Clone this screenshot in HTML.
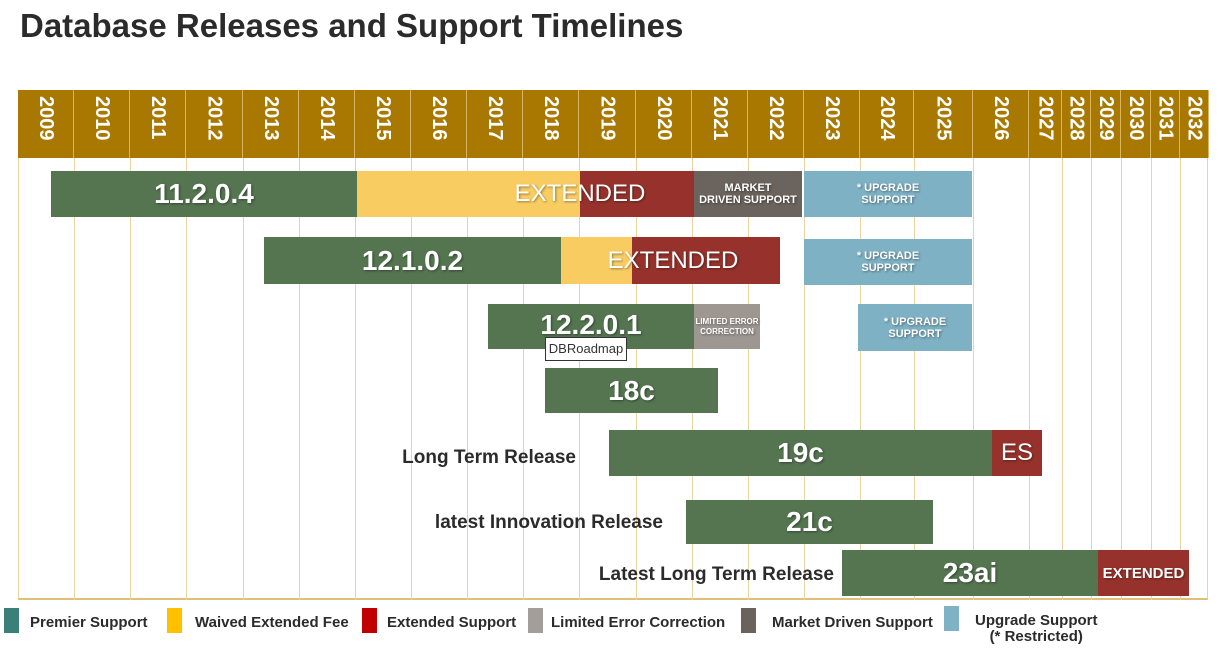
<!DOCTYPE html>
<html><head><meta charset="utf-8"><style>
body{margin:0;width:1219px;height:650px;background:#fff;position:relative;overflow:hidden;font-family:"Liberation Sans",sans-serif}
.a{position:absolute}
.t{position:absolute;left:20px;top:7px;font-size:33px;font-weight:bold;color:#2b2b2b}
.hd{position:absolute;top:90px;height:68px;background:#a97800;border-right:1px solid #d9b560;color:#fff;font-weight:bold;font-size:20px;writing-mode:vertical-rl;display:flex;align-items:center;justify-content:flex-start;padding-top:6px;box-sizing:border-box}
.gl{position:absolute;top:158px;height:442px;width:1px;background:#ead3a0}
.b{position:absolute;display:flex;align-items:center;justify-content:center;color:#fff;font-weight:bold;text-shadow:1px 1px 2px rgba(0,0,0,.4)}
.g{background:#547550;font-size:28px}
.y{background:#f9cc62}
.r{background:#96322b}
.m{background:#6b635d;font-size:11px;text-align:center;line-height:12px}
.u{background:#7eb1c4;font-size:11px;text-align:center;line-height:12px}
.l{background:#9e9690;font-size:8px;text-align:center;line-height:10px}
.lab{position:absolute;font-weight:bold;font-size:19px;color:#2b2b2b;text-align:right}
.sw{position:absolute;top:608px;width:15px;height:25px}
.lt{position:absolute;top:614px;font-weight:bold;font-size:15px;color:#2b2b2b}
.ext{font-weight:normal;font-size:24px;color:#fff}
</style></head><body>
<div class="t">Database Releases and Support Timelines</div>
<div class="a" style="left:18px;top:158px;width:1190px;height:442px;border-left:1px solid #ead3a0;border-right:1px solid #ead3a0;border-bottom:2px solid #e0c078;box-sizing:border-box"></div>
<div id="hdr"></div>
<script>
var b=[18,74,130,186,243,299,355,411,467,523,579,636,692,748,804,860,914,973,1029,1062,1091,1121,1151,1180,1209];
var h='';
for(var i=0;i<b.length-1;i++){h+='<div class="hd" style="left:'+b[i]+'px;width:'+(b[i+1]-b[i])+'px">'+(2009+i)+'</div>';
if(i>0)h+='<div class="gl" style="left:'+b[i]+'px"></div>';}
document.getElementById('hdr').innerHTML=h;
</script>
<!-- row1 -->
<div class="b g" style="left:51px;top:171px;width:306px;height:46px">11.2.0.4</div>
<div class="b y" style="left:357px;top:171px;width:223px;height:46px"></div>
<div class="b r" style="left:580px;top:171px;width:114px;height:46px"></div>
<div class="b ext" style="left:470px;top:171px;width:220px;height:46px">EXTENDED</div>
<div class="b m" style="left:694px;top:171px;width:108px;height:46px">MARKET<br>DRIVEN SUPPORT</div>
<div class="b u" style="left:804px;top:171px;width:168px;height:46px">* UPGRADE<br>SUPPORT</div>
<!-- row2 -->
<div class="b g" style="left:264px;top:237px;width:297px;height:47px">12.1.0.2</div>
<div class="b y" style="left:561px;top:237px;width:71px;height:47px"></div>
<div class="b r" style="left:632px;top:237px;width:148px;height:47px"></div>
<div class="b ext" style="left:573px;top:237px;width:200px;height:47px">EXTENDED</div>
<div class="b u" style="left:804px;top:239px;width:168px;height:46px">* UPGRADE<br>SUPPORT</div>
<!-- row3 -->
<div class="b g" style="left:488px;top:304px;width:206px;height:45px;padding-bottom:4px;box-sizing:border-box">12.2.0.1</div>
<div class="b l" style="left:694px;top:304px;width:66px;height:45px">LIMITED ERROR<br>CORRECTION</div>
<div class="b u" style="left:858px;top:304px;width:114px;height:47px">* UPGRADE<br>SUPPORT</div>
<div class="a" style="left:545px;top:337px;width:80px;height:22px;border:1px solid #333;background:#fff;font-size:13px;color:#333;text-align:center;line-height:22px">DBRoadmap</div>
<!-- row4 -->
<div class="b g" style="left:545px;top:368px;width:173px;height:45px">18c</div>
<!-- row5 -->
<div class="lab" style="left:300px;top:447px;width:276px">Long Term Release</div>
<div class="b g" style="left:609px;top:430px;width:383px;height:46px">19c</div>
<div class="b r ext" style="left:992px;top:430px;width:50px;height:46px">ES</div>
<!-- row6 -->
<div class="lab" style="left:300px;top:512px;width:363px">latest Innovation Release</div>
<div class="b g" style="left:686px;top:500px;width:247px;height:44px">21c</div>
<!-- row7 -->
<div class="lab" style="left:400px;top:564px;width:434px">Latest Long Term Release</div>
<div class="b g" style="left:842px;top:550px;width:256px;height:46px">23ai</div>
<div class="b r" style="left:1098px;top:550px;width:91px;height:46px;font-size:15px">EXTENDED</div>
<!-- legend -->
<div class="sw" style="left:4px;background:#3b7f79"></div><div class="lt" style="left:30px">Premier Support</div>
<div class="sw" style="left:167px;background:#ffc000"></div><div class="lt" style="left:195px">Waived Extended Fee</div>
<div class="sw" style="left:362px;background:#c00000"></div><div class="lt" style="left:387px">Extended Support</div>
<div class="sw" style="left:528px;background:#a39e99"></div><div class="lt" style="left:551px">Limited Error Correction</div>
<div class="sw" style="left:741px;background:#6b625c"></div><div class="lt" style="left:772px">Market Driven Support</div>
<div class="sw" style="left:944px;top:606px;background:#7fb2c5"></div><div class="lt" style="left:975px;top:613px;text-align:center;line-height:16px">Upgrade Support<br>(* Restricted)</div>
</body></html>
